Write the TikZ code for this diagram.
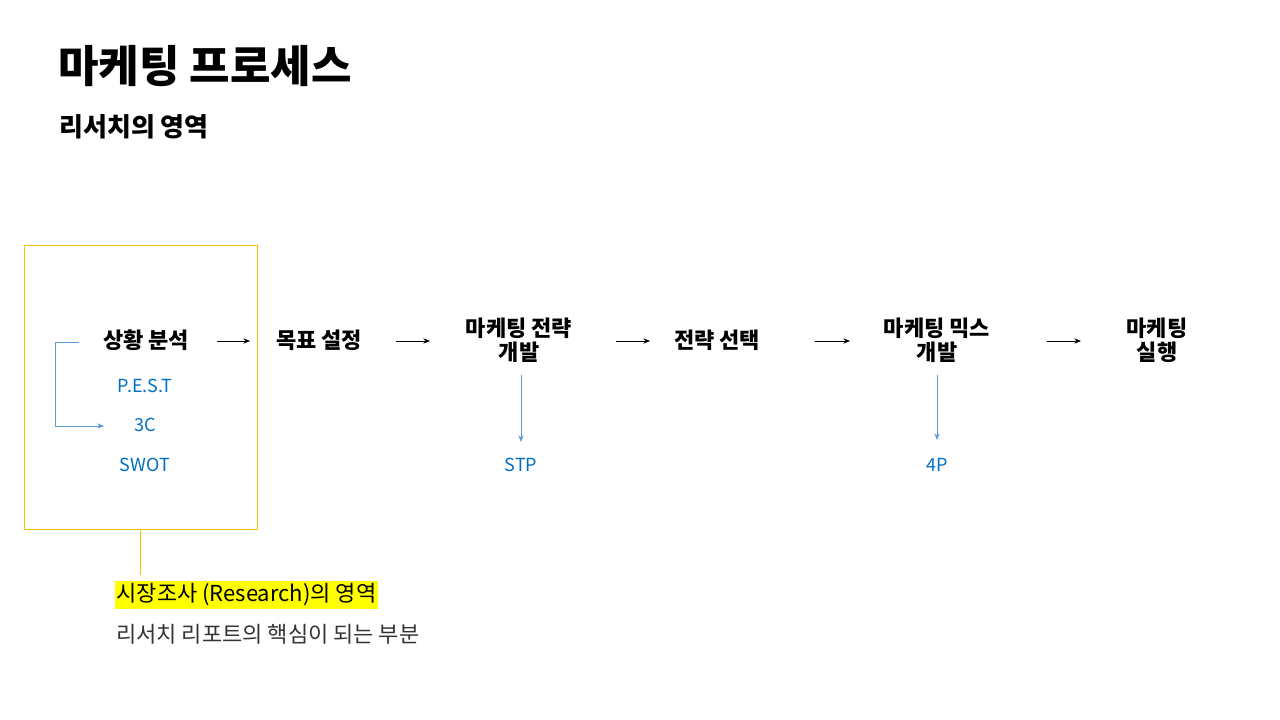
\documentclass[tikz,border=0pt]{standalone}
\usepackage{fontspec}
\setmainfont{Noto Sans CJK KR}
\newfontfamily\kb{Noto Sans CJK KR}[BoldFont=* Bold]
\usetikzlibrary{arrows.meta}
\definecolor{boxy}{HTML}{F2C500}
\definecolor{blu}{HTML}{0070C0}
\definecolor{lblu}{HTML}{5B9BD5}
\definecolor{hl}{HTML}{FFFF00}
\tikzset{
 stage/.style={font=\fontsize{16.5}{18}\selectfont\bfseries, align=center, inner sep=0},
 sub/.style={font=\fontsize{13.5}{16}\selectfont, text=blu, inner sep=0},
 flow/.style={-{Stealth[length=5pt,width=4pt]}, black, line width=0.7pt},
 bflow/.style={-{Stealth[length=5pt,width=4pt]}, lblu, line width=0.6pt}
}
\begin{document}
\begin{tikzpicture}[x=0.75pt,y=-0.75pt]
\useasboundingbox (0,0) rectangle (1280,720);
\node[anchor=west, font=\fontsize{33}{36}\selectfont\bfseries, inner sep=0] (t) at (58,66) {마케팅 프로세스};
\node[anchor=west, font=\fontsize{19.5}{22}\selectfont\bfseries, inner sep=0] (st) at (59,127) {리서치의 영역};
\draw[boxy, line width=0.6pt] (24,245) rectangle (257,529);
\coordinate (bt) at (140,529); \coordinate (bb) at (140,575);
\draw[boxy, line width=0.6pt] (bt) -- (bb);
\node[anchor=west, fill=hl, inner xsep=1pt, inner ysep=2pt, font=\fontsize{16.5}{18}\selectfont] (r1) at (115,595) {시장조사 (Research)의 영역};
\node[anchor=west, inner sep=0, text=black!80, font=\fontsize{16.5}{18}\selectfont] (r2) at (116,634) {리서치 리포트의 핵심이 되는 부분};
\node[stage] (a) at (146,340) {상황 분석};
\node[stage] (b) at (319,340) {목표 설정};
\node[stage] (c) at (519,340) {마케팅 전략\\개발};
\node[stage] (d) at (717,340) {전략 선택};
\node[stage] (e) at (937,340) {마케팅 믹스\\개발};
\node[stage] (f) at (1157,340) {마케팅\\실행};
\coordinate (a1) at (217,341); \coordinate (a2) at (250,341);
\coordinate (b1) at (396,341); \coordinate (b2) at (430,341);
\coordinate (c1) at (616,341); \coordinate (c2) at (650,341);
\coordinate (d1) at (815,341); \coordinate (d2) at (850,341);
\coordinate (e1) at (1047,341); \coordinate (e2) at (1081,341);
\foreach \p/\q in {a1/a2,b1/b2,c1/c2,d1/d2,e1/e2} \draw[flow] (\p) -- (\q);
\node[sub] (p1) at (145,386) {P.E.S.T};
\node[sub] (p2) at (145,425) {3C};
\node[sub] (p3) at (145,465) {SWOT};
\node[sub] (s) at (521,465) {STP};
\node[sub] (m) at (937,465) {4P};
\coordinate (k0) at (79,342); \coordinate (k1) at (104,426);
\draw[bflow] (k0) -- (55,342) -- (55,426) -- (k1);
\coordinate (v1) at (521,375); \coordinate (v2) at (521,442);
\coordinate (w1) at (937,375); \coordinate (w2) at (937,440);
\draw[bflow] (v1) -- (v2);
\draw[bflow] (w1) -- (w2);
\end{tikzpicture}
\end{document}
